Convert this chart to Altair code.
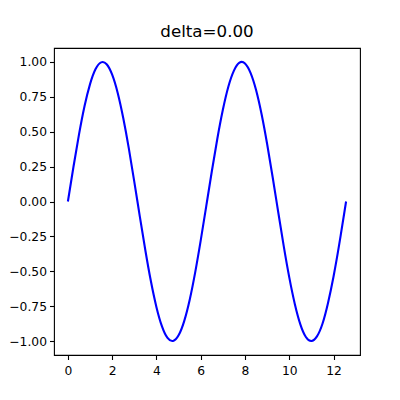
import altair as alt
import pandas as pd

xs = [0.0, 0.25, 0.5, 0.75, 1.0, 1.25, 1.5, 1.75, 2.0, 2.25, 2.5, 2.75, 3.0, 3.25, 3.5, 3.75,
      4.0, 4.25, 4.5, 4.75, 5.0, 5.25, 5.5, 5.75, 6.0, 6.25, 6.5, 6.75, 7.0, 7.25, 7.5, 7.75,
      8.0, 8.25, 8.5, 8.75, 9.0, 9.25, 9.5, 9.75, 10.0, 10.25, 10.5, 10.75, 11.0, 11.25, 11.5,
      11.75, 12.0, 12.25, 12.5, 12.566]
ys = [0.000, 0.247, 0.479, 0.682, 0.841, 0.949, 0.997, 0.984, 0.909, 0.778, 0.598, 0.382,
      0.141, -0.108, -0.351, -0.572, -0.757, -0.895, -0.978, -0.999, -0.959, -0.859, -0.706,
      -0.508, -0.279, -0.033, 0.215, 0.450, 0.657, 0.824, 0.938, 0.995, 0.989, 0.922, 0.799,
      0.625, 0.412, 0.174, -0.075, -0.320, -0.544, -0.734, -0.880, -0.971, -1.000, -0.967,
      -0.876, -0.727, -0.537, -0.313, -0.066, 0.000]
x_ticks = [0, 2, 4, 6, 8, 10, 12]
y_ticks = [-1.0, -0.75, -0.5, -0.25, 0.0, 0.25, 0.5, 0.75, 1.0]
title_text = "delta=0.00"

df = pd.DataFrame({"x": xs, "y": ys, "order": list(range(len(xs)))})

axis_common = dict(
    domain=False, grid=False, ticks=True, tickSize=4.5, tickColor="black", tickWidth=1.1,
    labelFont="DejaVu Sans", labelFontSize=12.3, labelColor="black", title=None,
)

chart = alt.Chart(df).mark_line(color="blue", strokeWidth=2.1, interpolate="natural", clip=True).encode(
    x=alt.X("x:Q", scale=alt.Scale(domain=[-0.628, 13.195], nice=False, zero=False),
            axis=alt.Axis(values=x_ticks, format="d", labelPadding=4.5, **axis_common)),
    y=alt.Y("y:Q", scale=alt.Scale(domain=[-1.1, 1.1], nice=False, zero=False),
            axis=alt.Axis(values=y_ticks, format=".2f", labelPadding=3, **axis_common)),
    order="order:Q",
).properties(
    width=306, height=307,
    background="white",
    title=alt.TitleParams(title_text, font="DejaVu Sans", fontSize=16.7, fontWeight="normal",
                          color="black", anchor="middle", offset=7),
    autosize=alt.AutoSizeParams(type="none"),
    padding={"left": 46, "top": 40, "right": 32, "bottom": 37},
).configure_view(stroke="black", strokeWidth=1.1)

chart.save("out.html", embed_options={"renderer": "svg", "actions": False})
